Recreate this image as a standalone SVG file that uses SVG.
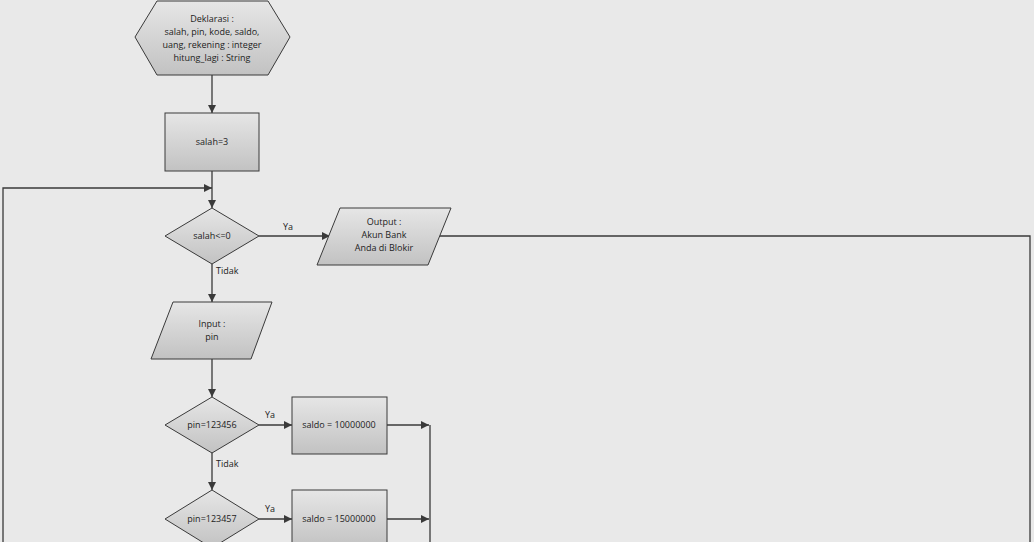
<svg xmlns="http://www.w3.org/2000/svg" width="1034" height="542" viewBox="0 0 1034 542">
<style>
.s{fill:url(#g);stroke:#3a3a3a;stroke-width:1}
.c{fill:none;stroke:#3a3a3a;stroke-width:1.3;}
.a{marker-end:url(#m)}
text{font-family:"Open Sans","DejaVu Sans",sans-serif;font-size:9px;fill:#222;text-anchor:middle}
.l{text-anchor:start}
</style>
<defs>
<linearGradient id="g" x1="0" y1="0" x2="0" y2="1"><stop offset="0" stop-color="#e6e6e6"/><stop offset="1" stop-color="#c2c2c2"/></linearGradient>
<marker id="m" viewBox="0 0 10 10" refX="10" refY="5" markerWidth="8" markerHeight="8" markerUnits="userSpaceOnUse" orient="auto"><path d="M0,0L10,5L0,10z" fill="#3a3a3a"/></marker>
</defs>
<rect width="1034" height="542" fill="#e9e9e9"/>
<g id="connectors">
<path class="c a" d="M212,75V113"/>
<path class="c a" d="M212,171V208"/>
<path class="c a" d="M3,542V188H212"/>
<path class="c a" d="M259,236H330"/>
<path class="c" d="M438,236H1030V542"/>
<path class="c a" d="M212,264V302"/>
<path class="c a" d="M212,359V397"/>
<path class="c a" d="M259,425H292"/>
<path class="c a" d="M387,425H429"/>
<path class="c" d="M430,425V542"/>
<path class="c a" d="M212,452V490"/>
<path class="c a" d="M259,519H292"/>
<path class="c a" d="M387,519H429"/>
<text x="288" y="230">Ya</text>
<text class="l" x="216" y="274">Tidak</text>
<text x="270" y="418">Ya</text>
<text class="l" x="216" y="467">Tidak</text>
<text x="270" y="512">Ya</text>
</g>
<g id="n1"><polygon class="s" points="135,37 157,1 268,1 290,37 268,75 157,75"/>
<text x="212" y="22">Deklarasi :</text><text x="212" y="35">salah, pin, kode, saldo,</text><text x="212" y="48">uang, rekening : integer</text><text x="212" y="61">hitung_lagi : String</text></g>
<g id="n2"><rect class="s" x="165" y="113" width="94" height="58"/><text x="212" y="145">salah=3</text></g>
<g id="n3"><polygon class="s" points="165,236 212,208 259,236 212,264"/><text x="212" y="239">salah&lt;=0</text></g>
<g id="n4"><polygon class="s" points="340,208 451,208 428,265 317,265"/><text x="384" y="225">Output :</text><text x="384" y="238">Akun Bank</text><text x="384" y="251">Anda di Blokir</text></g>
<g id="n5"><polygon class="s" points="173,302 272,302 251,359 151,359"/><text x="212" y="327">Input :</text><text x="212" y="340">pin</text></g>
<g id="n6"><polygon class="s" points="165,425 212,397 259,425 212,453"/><text x="212" y="428">pin=123456</text></g>
<g id="n7"><rect class="s" x="292" y="397" width="95" height="57"/><text x="339" y="428">saldo = 10000000</text></g>
<g id="n8"><polygon class="s" points="165,519 212,490 259,519 212,548"/><text x="212" y="522">pin=123457</text></g>
<g id="n9"><rect class="s" x="292" y="490" width="95" height="58"/><text x="339" y="522">saldo = 15000000</text></g>
</svg>
